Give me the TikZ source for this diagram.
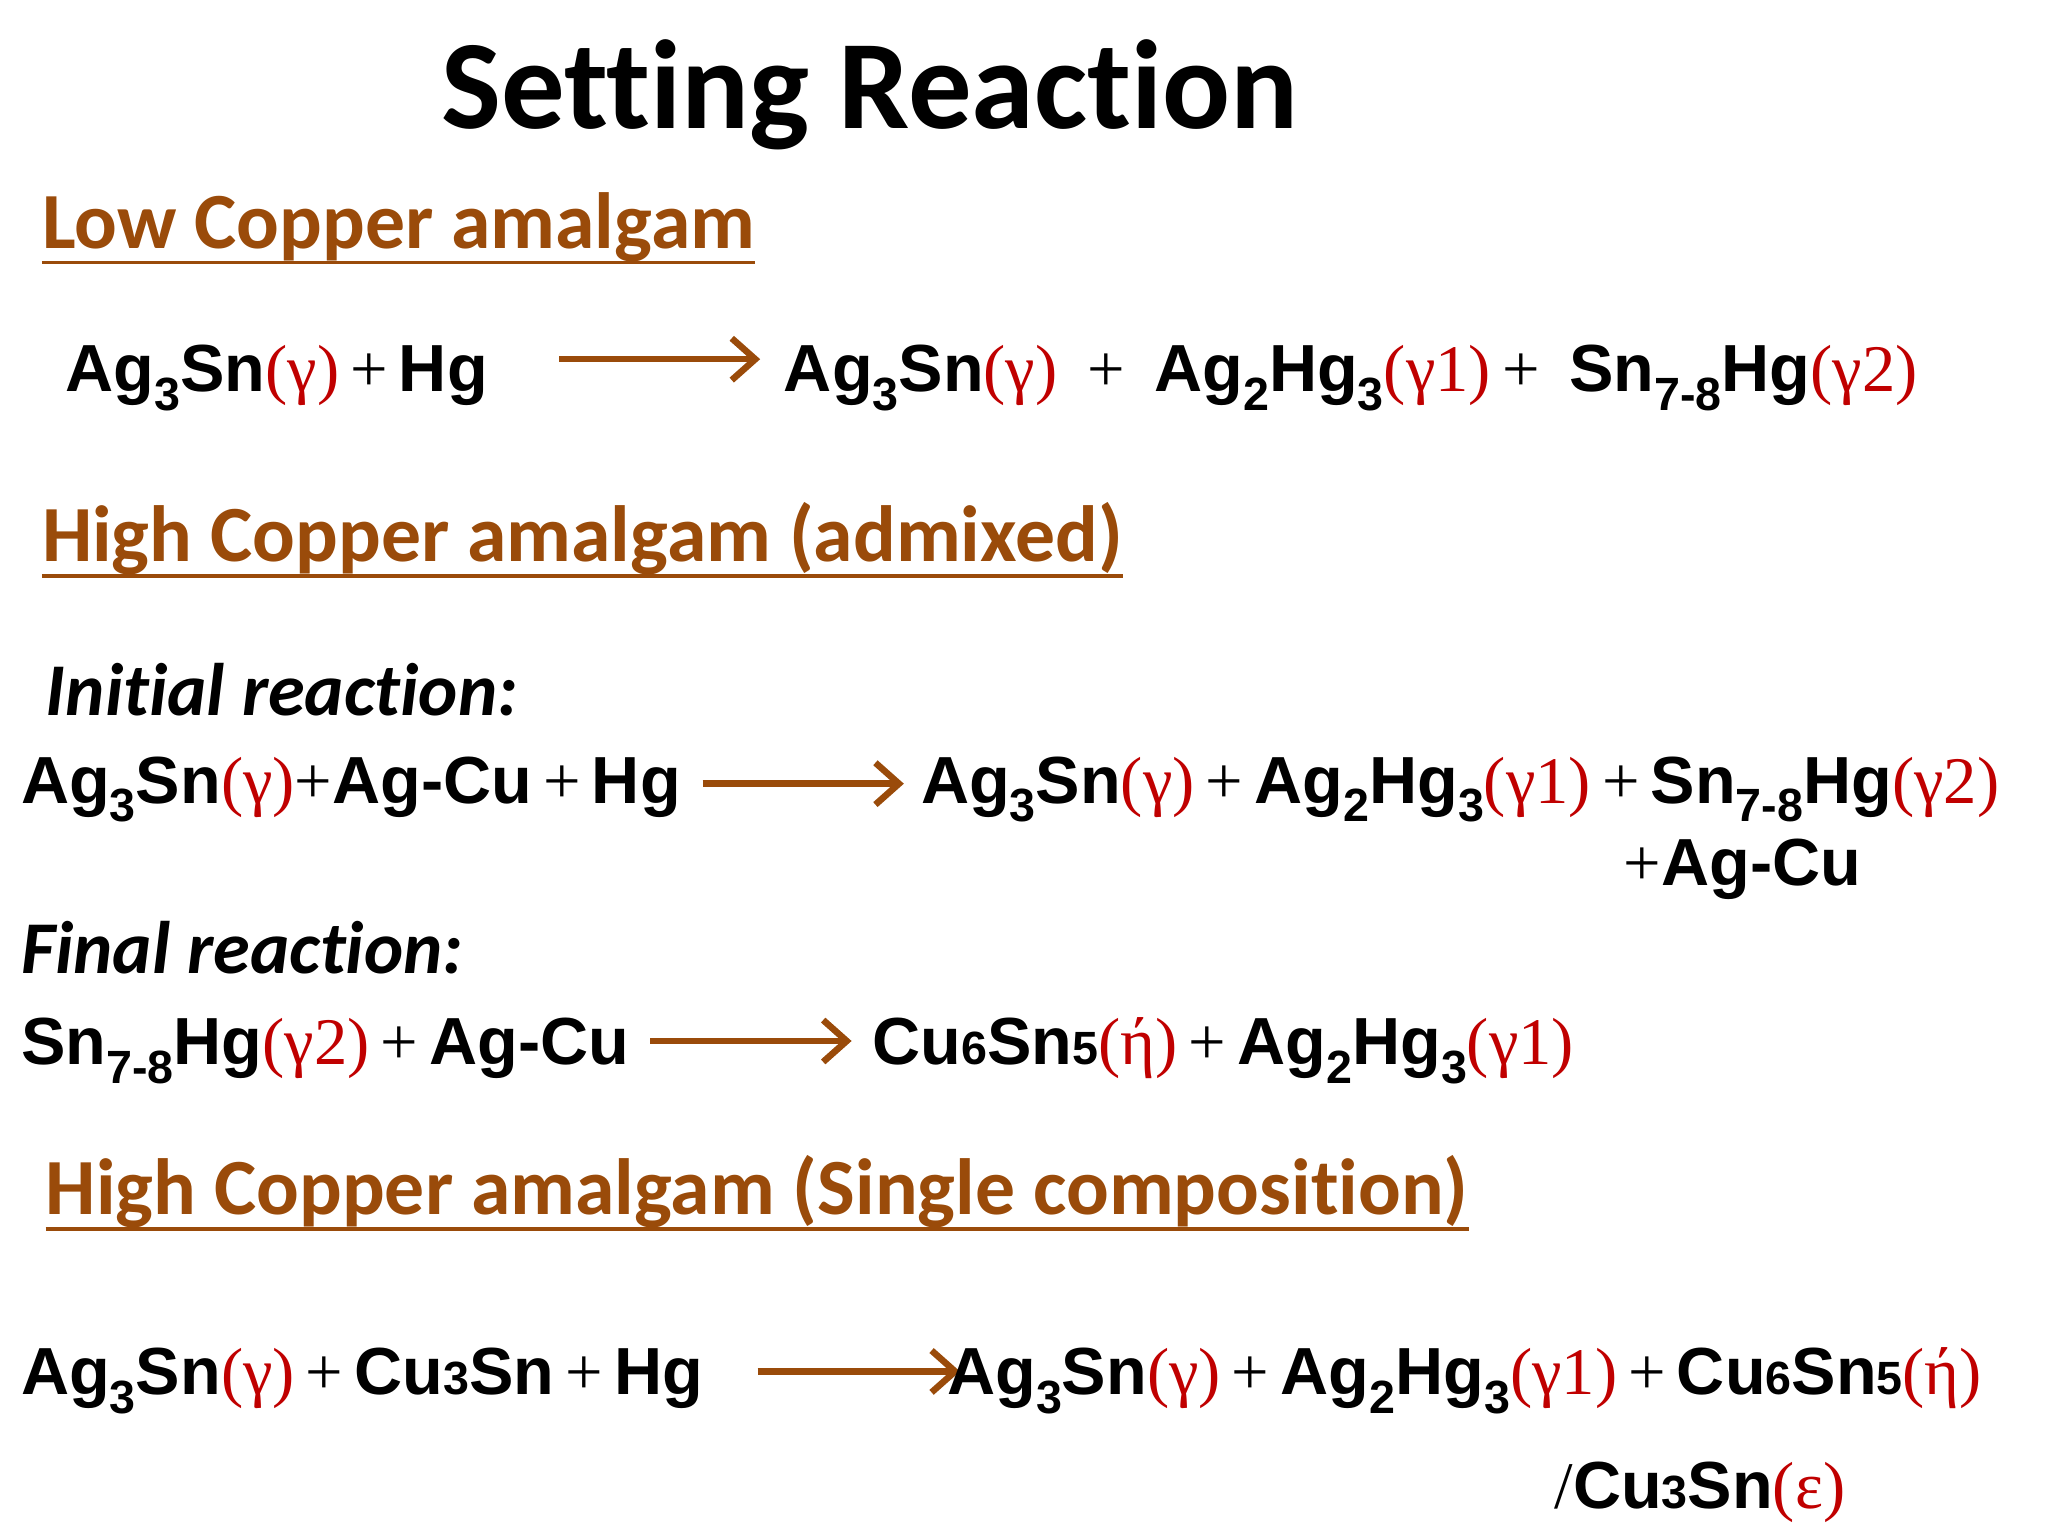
\documentclass[tikz,border=0pt]{standalone}
\usepackage{fontspec}
\setmainfont{Liberation Sans}
\newfontfamily\ser{Liberation Serif}
\newfontfamily\calfont[Ligatures=NoCommon]{Carlito}
\usepackage{graphicx}
\definecolor{brn}{HTML}{9A4B0A}
\definecolor{rd}{HTML}{C00000}
\newcommand\sbs[1]{\raisebox{-0.28em}{\scalebox{0.7}{#1}}}
\newcommand\sml[1]{\scalebox{0.7}{#1}}
\newcommand\gm[1]{\textcolor{rd}{\ser\mdseries(#1)}}
\newcommand\pl{{\ser\mdseries\,+\,}}
\usetikzlibrary{arrows.meta}
\tikzset{
 eq/.style={anchor=base west,inner sep=0,font=\fontsize{51}{60}\selectfont\bfseries},
 hd/.style={anchor=base west,inner sep=0,text=brn,font=\fontsize{61}{66}\selectfont\calfont\bfseries},
 it/.style={anchor=base west,inner sep=0,font=\fontsize{57}{60}\selectfont\calfont\bfseries\itshape},
 arr/.style={draw=brn,line width=5pt,-{Straight Barb[length=18pt,width=32pt,line width=5pt]}},
 ul/.style={draw=brn,line width=3pt}
}
\begin{document}
\begin{tikzpicture}[x=1pt,y=-1pt]
\useasboundingbox (0,0) rectangle (1568,1176);
\node[anchor=base,inner sep=0,font=\fontsize{97}{100}\selectfont\calfont\bfseries] (t) at (666,98) {Setting Reaction};
\node[hd] (h1) at (32,190) {Low Copper amalgam};
\draw[ul] ([yshift=-11pt]h1.base west) -- ([yshift=-11pt]h1.base east);
\node[eq] (a1) at (50,300) {Ag\sbs{3}Sn\gm{γ}\pl Hg};
\coordinate (s1) at (428,275); \coordinate (e1) at (582,275);
\draw[arr] (s1) -- (e1);
\node[eq] (b1) at (600,300) {Ag\sbs{3}Sn\gm{γ}\ \pl\ Ag\sbs{2}Hg\sbs{3}\gm{γ1}\pl\ Sn\sbs{7-8}Hg\gm{γ2}};
\node[hd] (h2) at (32,430) {High Copper amalgam (admixed)};
\draw[ul] ([yshift=-11pt]h2.base west) -- ([yshift=-11pt]h2.base east);
\node[it] (i1) at (35,548) {Initial reaction:};
\node[eq] (a2) at (16,615) {Ag\sbs{3}Sn\gm{γ}{\ser\mdseries+}Ag-Cu\pl Hg};
\coordinate (s2) at (538,600); \coordinate (e2) at (692,600);
\draw[arr] (s2) -- (e2);
\node[eq] (b2) at (705,615) {Ag\sbs{3}Sn\gm{γ}\pl Ag\sbs{2}Hg\sbs{3}\gm{γ1}\pl Sn\sbs{7-8}Hg\gm{γ2}};
\node[eq] (c2) at (1243,678) {{\ser\mdseries+}Ag-Cu};
\node[it] (f1) at (16,745) {Final reaction:};
\node[eq] (a3) at (16,815) {Sn\sbs{7-8}Hg\gm{γ2}\pl Ag-Cu};
\coordinate (s3) at (498,797); \coordinate (e3) at (652,797);
\draw[arr] (s3) -- (e3);
\node[eq] (b3) at (668,815) {Cu\sml{6}Sn\sml{5}\gm{ή}\pl Ag\sbs{2}Hg\sbs{3}\gm{γ1}};
\node[hd] (h3) at (35,930) {High Copper amalgam (Single composition)};
\draw[ul] ([yshift=-11pt]h3.base west) -- ([yshift=-11pt]h3.base east);
\node[eq] (a4) at (16,1068) {Ag\sbs{3}Sn\gm{γ}\pl Cu\sml{3}Sn\pl Hg};
\coordinate (s4) at (580,1050); \coordinate (e4) at (735,1050);
\draw[arr] (s4) -- (e4);
\node[eq] (b4) at (725,1068) {Ag\sbs{3}Sn\gm{γ}\pl Ag\sbs{2}Hg\sbs{3}\gm{γ1}\pl Cu\sml{6}Sn\sml{5}\gm{ή}};
\node[eq] (c4) at (1190,1155) {{\ser\mdseries/}Cu\sml{3}Sn\gm{ε}};
\end{tikzpicture}
\end{document}
